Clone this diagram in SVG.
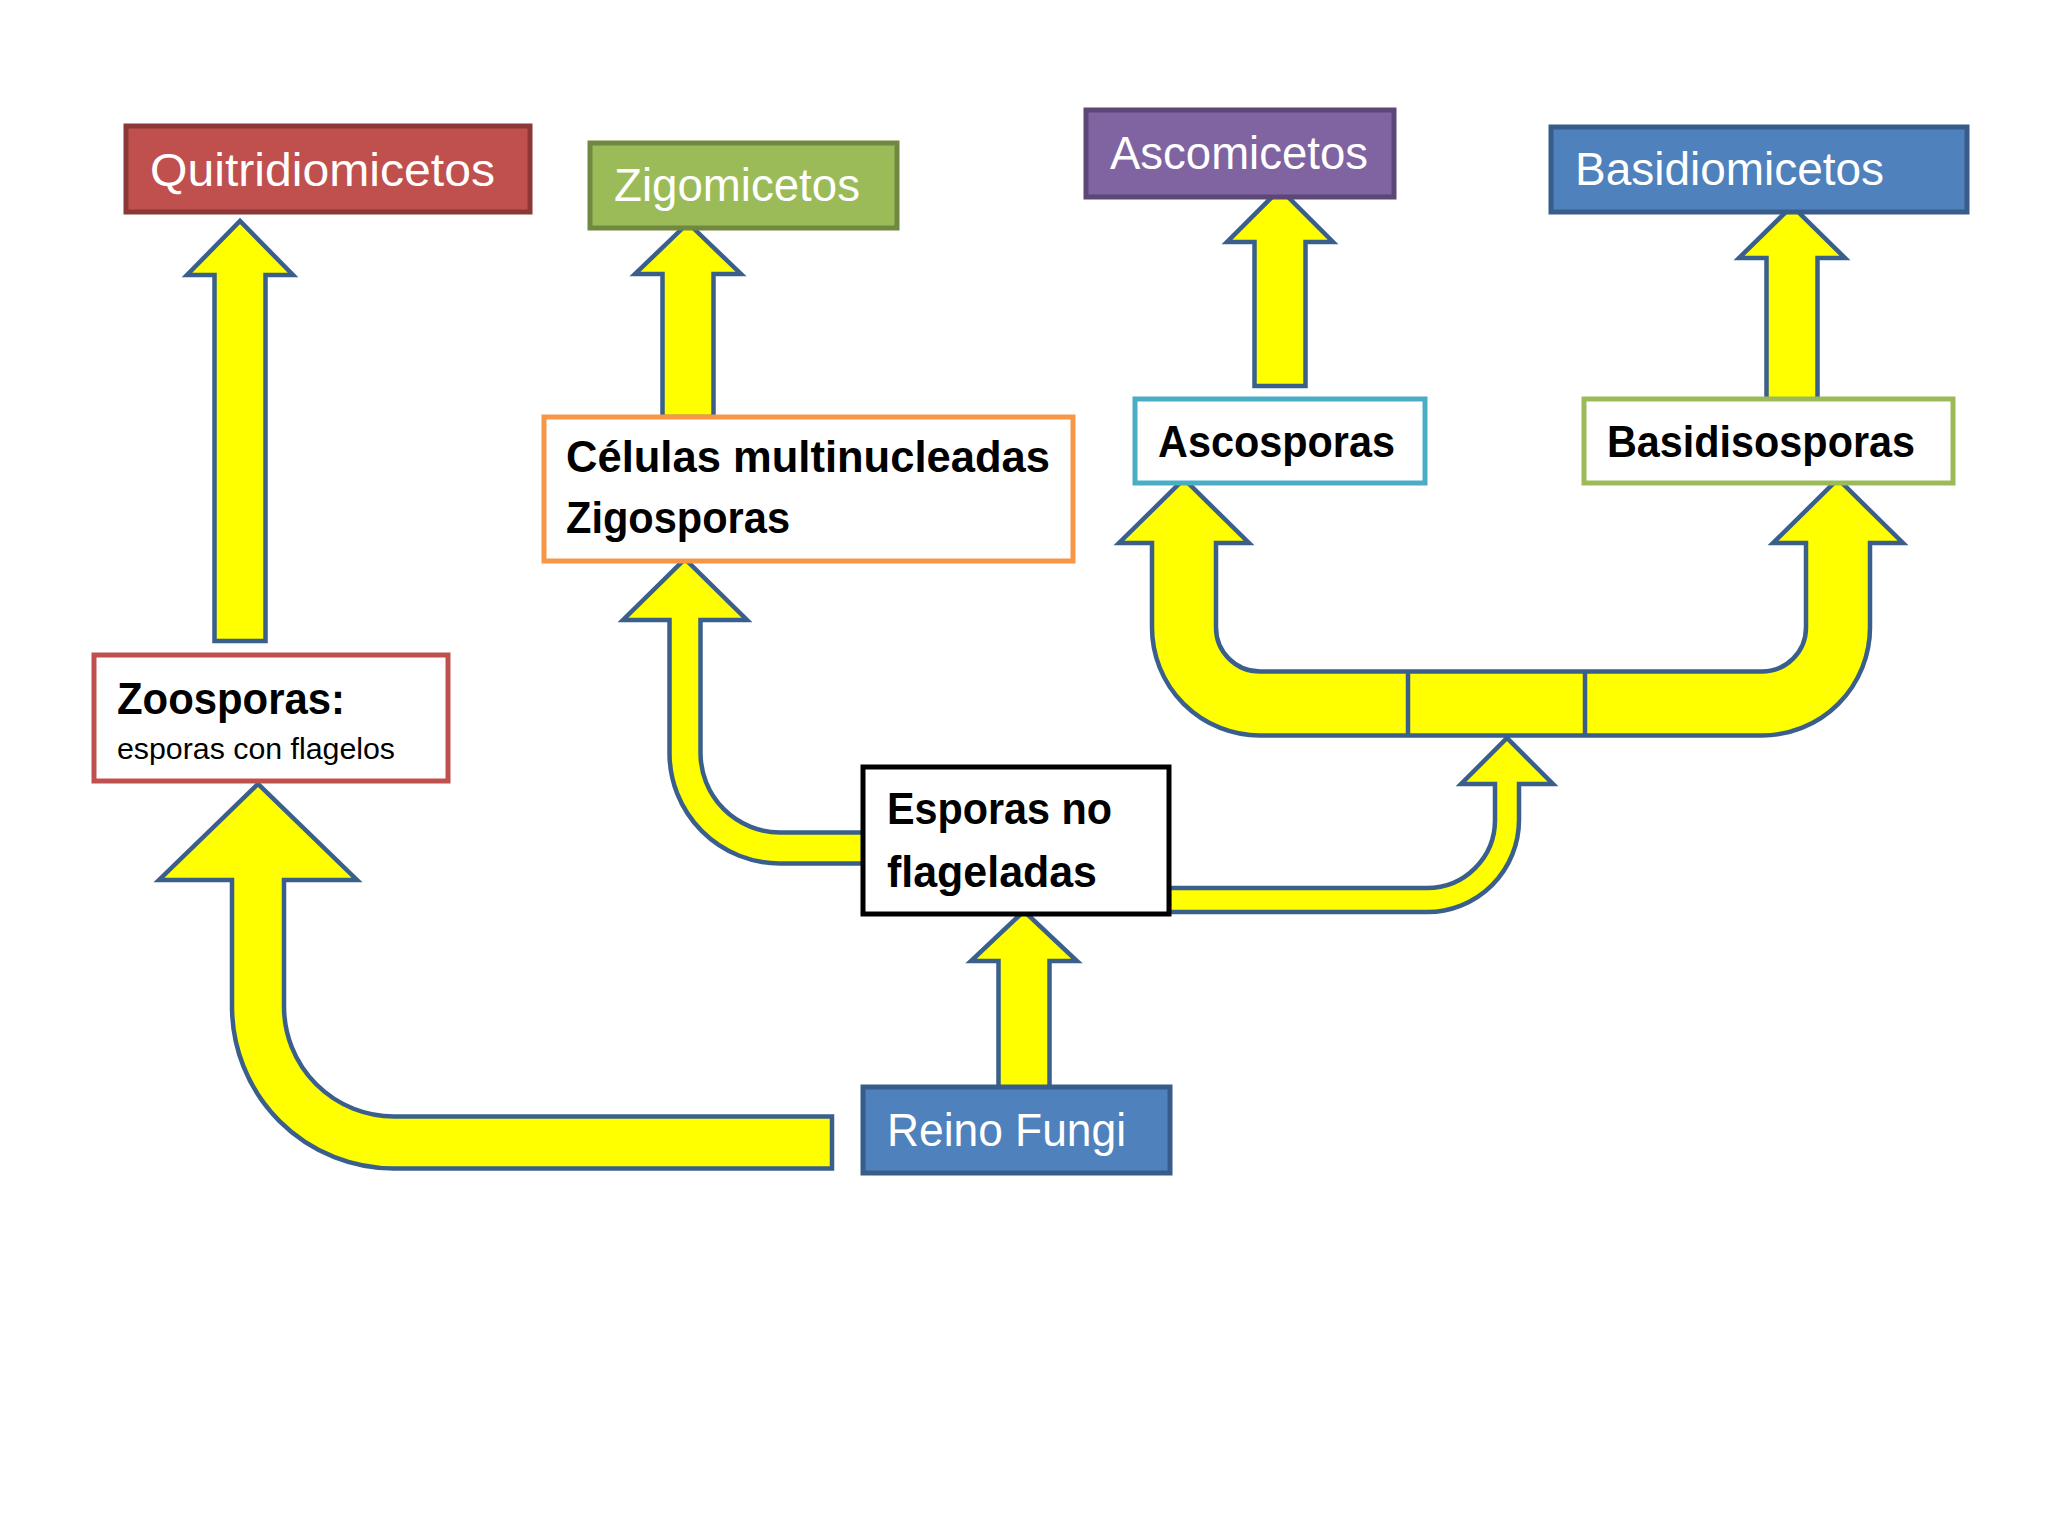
<svg xmlns="http://www.w3.org/2000/svg" width="2048" height="1536" viewBox="0 0 2048 1536">
<style>
.arrow{fill:#FFFF00;stroke:#3A5F8D;stroke-width:4.5;stroke-linejoin:miter}
.div{stroke:#3A5F8D;stroke-width:4.5}
.box{stroke-width:5}
.tw{font-family:"Liberation Sans",Arial,sans-serif;font-size:46px;fill:#FFFFFF}
.tb{font-family:"Liberation Sans",Arial,sans-serif;font-size:44px;font-weight:bold;fill:#000000}
.ts{font-family:"Liberation Sans",Arial,sans-serif;font-size:30px;fill:#000000}
</style>
<rect x="0" y="0" width="2048" height="1536" fill="#FFFFFF"/>
<g id="connectors">
  <polygon class="arrow" points="214.5,641 214.5,275 187,275 240,221 293,275 265.5,275 265.5,641"/>
  <polygon class="arrow" points="662.5,417 662.5,274 635,274 688,223 741,274 713.5,274 713.5,417"/>
  <polygon class="arrow" points="1254.5,386 1254.5,242 1227,242 1280,189 1333,242 1305.5,242 1305.5,386"/>
  <polygon class="arrow" points="1766.5,401 1766.5,258 1739,258 1792,206 1845,258 1817.5,258 1817.5,401"/>
  <polygon class="arrow" points="998.5,1090 998.5,961 971,961 1024,911 1077,961 1049.5,961 1049.5,1090"/>
  <path class="arrow" d="M832,1116.5 L394,1116.5 A110,110 0 0 1 284,1006.5 L284,880 L357,880 L258,784 L159,880 L232,880 L232,1006.5 A162,162 0 0 0 394,1168.5 L832,1168.5 Z"/>
  <path class="arrow" d="M864,832.5 L780,832.5 A79.5,79.5 0 0 1 700.5,753 L700.5,620 L747,620 L685,559 L623,620 L669.5,620 L669.5,753 A110.5,110.5 0 0 0 780,863.5 L864,863.5 Z"/>
  <path class="arrow" d="M1169,888 L1427,888 A68,68 0 0 0 1495,820 L1495,784 L1461,784 L1507,738 L1553,784 L1519,784 L1519,820 A92,92 0 0 1 1427,912 L1169,912 Z"/>
  <path class="arrow" d="M1216,543 L1216,627.5 A44,44 0 0 0 1260,671.5 L1762,671.5 A44,44 0 0 0 1806,627.5 L1806,543 L1773,543 L1838,479 L1903,543 L1870,543 L1870,627.5 A108,108 0 0 1 1762,735.5 L1260,735.5 A108,108 0 0 1 1152,627.5 L1152,543 L1119,543 L1184,479 L1249,543 Z"/>
  <line class="div" x1="1408" y1="671.5" x2="1408" y2="735.5"/>
  <line class="div" x1="1585" y1="671.5" x2="1585" y2="735.5"/>
</g>
<g id="quitridiomicetos">
  <rect class="box" x="126" y="126" width="404" height="86" fill="#C0504D" stroke="#8C3836"/>
  <text class="tw" x="150" y="186" textLength="345" lengthAdjust="spacingAndGlyphs">Quitridiomicetos</text>
</g>
<g id="zigomicetos">
  <rect class="box" x="590" y="143" width="307" height="85" fill="#9BBB59" stroke="#71893F"/>
  <text class="tw" x="614" y="201" textLength="246" lengthAdjust="spacingAndGlyphs">Zigomicetos</text>
</g>
<g id="ascomicetos">
  <rect class="box" x="1086" y="110" width="308" height="87" fill="#8064A2" stroke="#5C4776"/>
  <text class="tw" x="1110" y="169" textLength="258" lengthAdjust="spacingAndGlyphs">Ascomicetos</text>
</g>
<g id="basidiomicetos">
  <rect class="box" x="1551" y="127" width="416" height="85" fill="#4F81BD" stroke="#385D8A"/>
  <text class="tw" x="1575" y="185" textLength="309" lengthAdjust="spacingAndGlyphs">Basidiomicetos</text>
</g>
<g id="celulas">
  <rect class="box" x="544" y="417" width="529" height="144" fill="#FFFFFF" stroke="#F79646"/>
  <text class="tb" x="566" y="472" textLength="484" lengthAdjust="spacingAndGlyphs">Células multinucleadas</text>
  <text class="tb" x="566" y="533" textLength="224" lengthAdjust="spacingAndGlyphs">Zigosporas</text>
</g>
<g id="ascosporas">
  <rect class="box" x="1135" y="399" width="290" height="84" fill="#FFFFFF" stroke="#4BACC6"/>
  <text class="tb" x="1158" y="457" textLength="237" lengthAdjust="spacingAndGlyphs">Ascosporas</text>
</g>
<g id="basidisosporas">
  <rect class="box" x="1584" y="399" width="369" height="84" fill="#FFFFFF" stroke="#9BBB59"/>
  <text class="tb" x="1607" y="457" textLength="308" lengthAdjust="spacingAndGlyphs">Basidisosporas</text>
</g>
<g id="zoosporas">
  <rect class="box" x="94" y="655" width="354" height="126" fill="#FFFFFF" stroke="#C0504D"/>
  <text class="tb" x="117" y="714" textLength="228" lengthAdjust="spacingAndGlyphs">Zoosporas:</text>
  <text class="ts" x="117" y="759" textLength="278" lengthAdjust="spacingAndGlyphs">esporas con flagelos</text>
</g>
<g id="esporas-no-flageladas">
  <rect class="box" x="863" y="767" width="306" height="147" fill="#FFFFFF" stroke="#000000"/>
  <text class="tb" x="887" y="824" textLength="225" lengthAdjust="spacingAndGlyphs">Esporas no</text>
  <text class="tb" x="887" y="887" textLength="210" lengthAdjust="spacingAndGlyphs">flageladas</text>
</g>
<g id="reino-fungi">
  <rect class="box" x="863" y="1087" width="307" height="86" fill="#4F81BD" stroke="#385D8A"/>
  <text class="tw" x="887" y="1146" textLength="239" lengthAdjust="spacingAndGlyphs">Reino Fungi</text>
</g>
</svg>
